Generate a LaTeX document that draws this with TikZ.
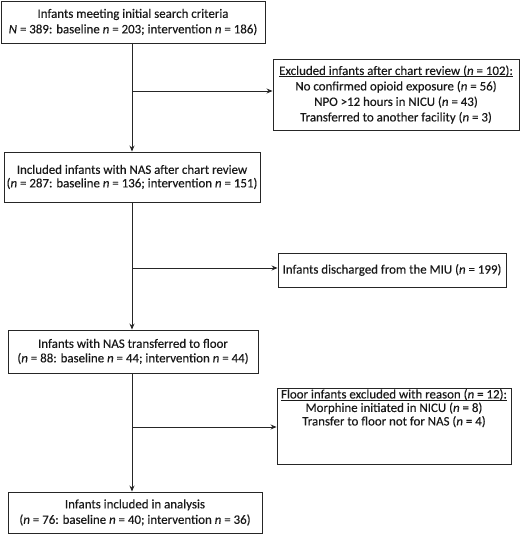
\documentclass[tikz,border=0pt]{standalone}
\usepackage{fontspec}
\setmainfont{Carlito}[FakeBold=0.3]
\usetikzlibrary{arrows.meta}
\newlength\ulwidth
\newcommand\ulx[1]{\settowidth\ulwidth{#1}\makebox[0pt][l]{\rule[-1.8pt]{\ulwidth}{0.6pt}}#1}
\begin{document}
\begin{tikzpicture}[x=1pt,y=-1pt,
  box/.style={draw=black!85, line width=0.9pt, rectangle, inner sep=0pt, align=center,
    font=\fontsize{12.9}{15.5}\selectfont, text=black!90},
  conn/.style={draw=black!85, line width=0.9pt},
  arr/.style={conn, -{Stealth[length=6pt,width=5pt]}}]
\useasboundingbox (0,0) rectangle (520,534);
\node[box, minimum width=264pt, minimum height=42pt] (b1) at (133,22)
  {Infants meeting initial search criteria\\
   \textit{N} = 389: baseline \textit{n} = 203; intervention \textit{n} = 186)};
\node[box, minimum width=246pt, minimum height=71pt] (b2) at (396,94.5)
  {\ulx{Excluded infants after chart review (\textit{n} = 102):}\\
   No confirmed opioid exposure (\textit{n} = 56)\\
   NPO >12 hours in NICU (\textit{n} = 43)\\
   Transferred to another facility (\textit{n} = 3)};
\node[box, minimum width=256pt, minimum height=50pt] (b3) at (132,177)
  {\rule{0pt}{9pt}Included infants with NAS after chart review\\[-2pt]
   (\textit{n} = 287: baseline \textit{n} = 136; intervention \textit{n} = 151)};
\node[box, minimum width=228pt, minimum height=34pt] (b4) at (392,270)
  {Infants discharged from the MIU (\textit{n} = 199)};
\node[box, minimum width=250pt, minimum height=43pt] (b5) at (133,351.5)
  {Infants with NAS transferred to floor\\[-1pt]
   (\textit{n} = 88: baseline \textit{n} = 44; intervention \textit{n} = 44)};
\node[box, minimum width=234pt, minimum height=76pt, text depth=0pt] (b6) at (394,426)
  {\ulx{Floor infants excluded with reason (\textit{n} = 12):}\\[-2pt]
   Morphine initiated in NICU (\textit{n} = 8)\\[-2pt]
   Transfer to floor not for NAS (\textit{n} = 4)\\[22pt]};
\node[box, minimum width=254pt, minimum height=41pt] (b7) at (135,512.5)
  {Infants included in analysis\\
   (\textit{n} = 76: baseline \textit{n} = 40; intervention \textit{n} = 36)};
\coordinate (s1) at (132,43);
\coordinate (j1) at (132,91);
\coordinate (j2) at (132,268);
\coordinate (j3) at (132,427);
\draw[arr] (s1) -- (s1 |- b3.north);
\draw[arr] (j1) -- (j1 -| b2.west);
\draw[arr] (s1 |- b3.south) -- (s1 |- b5.north);
\draw[arr] (j2) -- (j2 -| b4.west);
\draw[arr] (s1 |- b5.south) -- (s1 |- b7.north);
\draw[arr] (j3) -- (j3 -| b6.west);
\end{tikzpicture}
\end{document}
